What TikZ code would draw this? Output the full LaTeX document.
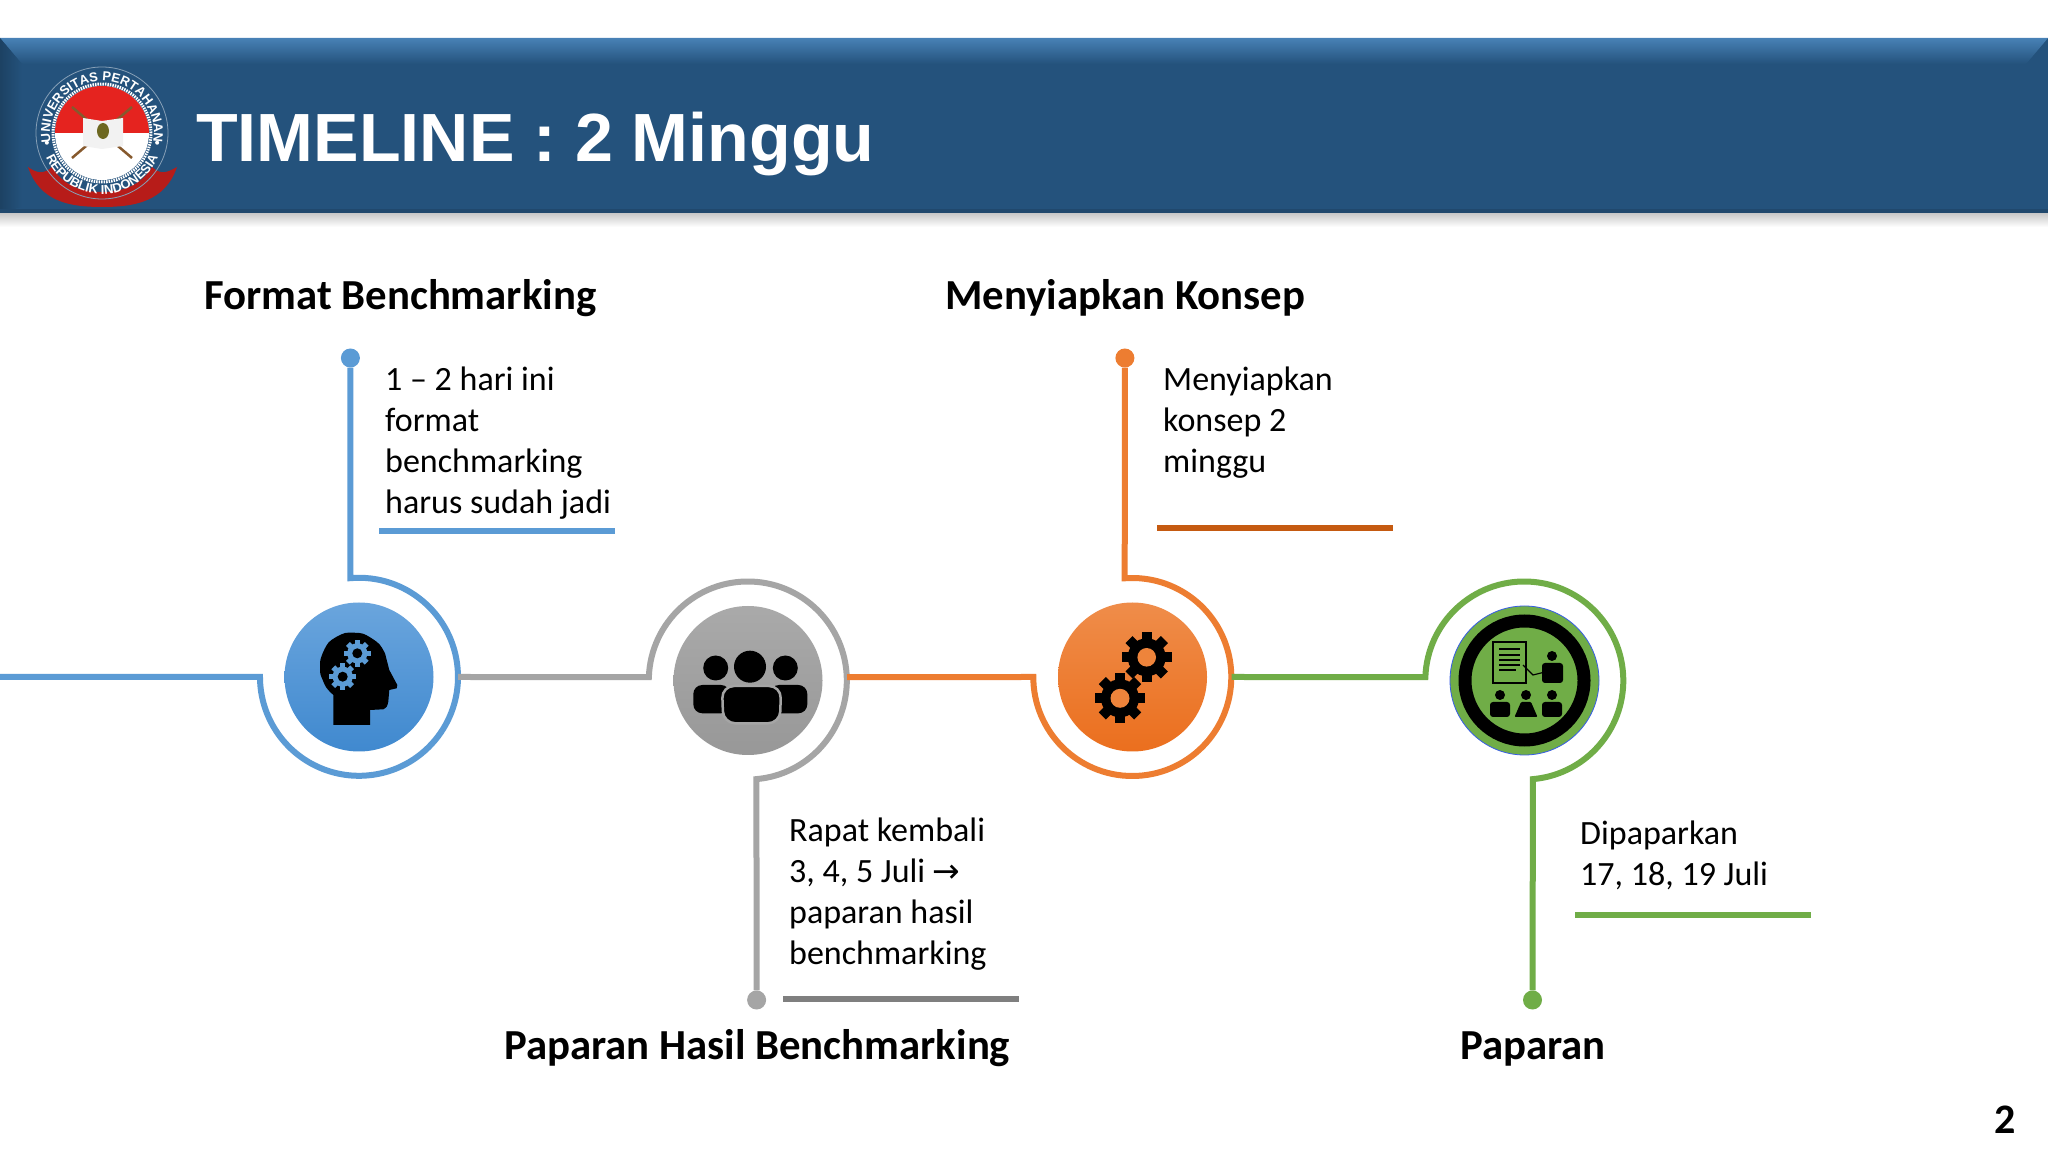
\documentclass[tikz,border=0pt]{standalone}
\usepackage{fontspec}
\setmainfont{Carlito}
\newfontfamily\titlefont{Liberation Sans}
\newfontfamily\arrowfont{DejaVu Sans}
\usetikzlibrary{calc, decorations.text}
\definecolor{headbase}{HTML}{24527C}
\definecolor{linkblue}{HTML}{5B9BD5}
\definecolor{linkgray}{HTML}{A5A5A5}
\definecolor{linkorange}{HTML}{ED7D31}
\definecolor{linkgreen}{HTML}{70AD47}
\definecolor{rulegray}{HTML}{7F7F7F}
\definecolor{ruleorange}{HTML}{C55A11}
\definecolor{logored}{HTML}{E5231F}
\definecolor{disctopblue}{HTML}{6AA5DD}
\definecolor{discbotblue}{HTML}{4089CF}
\definecolor{discbotorange}{HTML}{EB6F1E}
\tikzset{
  gearicon/.pic={
    \fill (0,0) circle[radius=.76];
    \foreach \a in {0,45,...,315}
      \fill[rotate=\a] (-.2,.6) rectangle (.2,1);
  }
}
\begin{document}
\begin{tikzpicture}[x=1pt, y=1pt,
    ringnode/.style={circle, minimum size=198pt, inner sep=0pt},
    disc/.style={circle, minimum size=149pt, inner sep=0pt},
    link/.style={line width=6pt, line join=miter},
    enddot/.style={circle, minimum size=19pt, inner sep=0pt},
    heading/.style={anchor=base west, inner sep=0pt, font=\fontsize{42.8}{46}\selectfont\bfseries},
    bodytext/.style={anchor=north west, inner sep=0pt, align=left, font=\fontsize{34}{41}\selectfont},
    rulebar/.style={anchor=west, minimum width=236pt, minimum height=6pt, inner sep=0pt}
  ]
  \useasboundingbox (0,0) rectangle (2048,1152);
  \fill[white] (0,0) rectangle (2048,1152);

  % Header band with bevel and shadow
  \shade[top color=black!22, bottom color=white] (0,939) rectangle (2048,925);
  \fill[headbase] (0,939) rectangle (2048,1114);
  \shade[bottom color=headbase, top color=headbase!35!linkblue] (0,1114) -- (2048,1114) -- (2026,1088) -- (22,1088) -- cycle;
  \shade[left color=headbase!80!black, right color=headbase] (0,1114) -- (22,1088) -- (22,945) -- (0,939) -- cycle;
  \fill[headbase!88!black] (0,939) rectangle (2048,943);
  \node[anchor=base west, inner sep=0pt, text=white, font=\titlefont\fontsize{68.2}{80}\selectfont\bfseries] (headtitle) at (196,990) {TIMELINE : 2 Minggu};

  % Logo
  \fill[logored!80!black] (28,985) .. controls (40,950) and (70,945) .. (102,945) .. controls (134,945) and (165,950) .. (177,985) .. controls (165,978) and (160,978) .. (152,985) .. controls (140,965) and (120,960) .. (102,960) .. controls (84,960) and (64,965) .. (52,985) .. controls (44,978) and (38,978) .. (28,985) -- cycle;
  \draw[white!45!headbase, line width=.8pt] (102,1019) circle[radius=66];
  \fill[white] (102,1019) circle[radius=47];
  \begin{scope}
    \clip (55,1019) rectangle (149,1070);
    \fill[logored] (102,1019) circle[radius=47];
  \end{scope}
  \draw[white, line width=3pt, dash pattern=on 1.5pt off 1pt] (102,1019) circle[radius=49];
  \draw[brown!70!black, line width=2.5pt] (72,1045) -- (132,994);
  \draw[brown!70!black, line width=2.5pt] (132,1045) -- (72,994);
  \fill[black!5] (83,1006) -- (102,1003) -- (123,1006) -- (123,1034) -- (102,1031) -- (83,1034) -- cycle;
  \fill[olive!70!black] (103,1021) ellipse[x radius=6, y radius=8];
  \path[decorate, decoration={text along path, text align=center, text color=white, text={|\titlefont\fontsize{13}{13}\selectfont\bfseries|UNIVERSITAS PERTAHANAN}}] ($(102,1019)+(190:52)$) arc[start angle=190,end angle=-10,radius=52];
  \path[decorate, decoration={text along path, text align=center, text color=white, text={|\titlefont\fontsize{13}{13}\selectfont\bfseries|REPUBLIK INDONESIA}}] ($(102,1019)+(205:61)$) arc[start angle=205,end angle=335,radius=61];
  \fill[white] ($(102,1019)+(190:56)$) circle[radius=2];
  \fill[white] ($(102,1019)+(-10:56)$) circle[radius=2];

  % Rings, discs and end dots
  \node[ringnode] (ringblue) at (359,475) {};
  \node[ringnode] (ringgray) at (748,471.5) {};
  \node[ringnode] (ringorange) at (1132.5,475) {};
  \node[ringnode] (ringgreen) at (1524.5,471.5) {};
  \node[disc, top color=disctopblue, bottom color=discbotblue] (discblue) at (ringblue) {};
  \node[disc, top color=linkgray!95!white, bottom color=linkgray!92!black] (discgray) at (ringgray) {};
  \node[disc, top color=linkorange!88!white, bottom color=discbotorange] (discorange) at (ringorange) {};
  \node[disc, fill=linkgreen, draw=linkblue!60!blue, line width=.8pt] (discgreen) at (ringgreen) {};
  \node[enddot, fill=linkblue] (dotblue) at (350.4,794) {};
  \node[enddot, fill=linkgray] (dotgray) at (756.6,152) {};
  \node[enddot, fill=linkorange] (dotorange) at (1124.9,794) {};
  \node[enddot, fill=linkgreen] (dotgreen) at (1532.5,152) {};
  \coordinate (startline) at (0,475);

  % Connectors, each line runs on into the ring of its own colour
  \draw[link, linkblue] (dotblue) -- (ringblue.95) arc[start angle=95,end angle=-180,radius=99] -- (startline);
  \draw[link, linkgray] (ringblue.east) -- (ringgray.178) arc[start angle=178,end angle=-85,radius=99] -- (dotgray);
  \draw[link, linkorange] (ringgray.2) -- (ringorange.west) arc[start angle=-180,end angle=94.4,radius=99] -- (dotorange);
  \draw[link, linkgreen] (ringorange.east) -- (ringgreen.178) arc[start angle=178,end angle=-85,radius=99] -- (dotgreen);

  % Head icon
  \fill[black] (333.3,427) -- (370,427) -- (370,442) -- (383.3,442.7) .. controls (387,445) .. (388.3,450.3) -- (389.3,462) -- (396.7,463.7) -- (397.3,467) -- (389.3,482) .. controls (388,490) .. (385,498.7) .. controls (380,508) .. (371.7,513.7) .. controls (363,519) .. (353.3,519.3) .. controls (345,519.5) .. (336.7,515.3) .. controls (328,510) .. (323.3,500.3) .. controls (320,492) .. (320,485.3) .. controls (320,478) .. (322.7,472) .. controls (326,464) .. (333.3,457) -- cycle;
  \begin{scope}[fill=linkblue]
    \pic[scale=13.3] at (357.3,498.7) {gearicon};
    \pic[scale=13.3] at (342.7,475.3) {gearicon};
  \end{scope}
  \fill[black] (357.3,498.7) circle[radius=5];
  \fill[black] (342.7,475.3) circle[radius=5];

  % Group icon
  \fill[black] (715.7,484) circle[radius=12.5];
  \fill[black] (785.3,484) circle[radius=12.5];
  \fill[black] (750,485.3) circle[radius=16];
  \fill[black, rounded corners=9pt] (693.3,438.7) -- (693.3,467) -- (730,467) -- (730,438.7) -- cycle;
  \fill[black, rounded corners=9pt] (770,438.7) -- (770,467) -- (807.3,467) -- (807.3,438.7) -- cycle;
  \filldraw[fill=black, draw=linkgray, rounded corners=12pt, line width=2.5pt] (723.3,428.7) -- (722,466) -- (781,466) -- (780,428.7) -- cycle;

  % Gear icon
  \begin{scope}[fill=black]
    \pic[scale=25] at (1146.7,494.7) {gearicon};
    \pic[scale=25] at (1120,453.7) {gearicon};
  \end{scope}
  \fill[linkorange!95!white] (1146.7,494.7) circle[radius=9.3];
  \fill[linkorange!95!white] (1120,453.7) circle[radius=9.5];

  % Presenter icon
  \draw[black, line width=13pt] (ringgreen) circle[radius=59.5];
  \draw[black, line width=1.5pt] (1493,510) rectangle (1526,469);
  \foreach \ypos/\xend in {503/1520, 497/1520, 492/1520, 487/1520, 482/1516}
    \draw[black, line width=1.3pt] (1499,\ypos) -- (\xend,\ypos);
  \fill[black] (1552,496) circle[radius=5];
  \fill[black, rounded corners=3pt] (1542,469) -- (1542,489) -- (1563,489) -- (1563,469) -- cycle;
  \draw[black, line width=1.2pt] (1523,487) -- (1533,477) -- (1545,480);
  \foreach \xpos in {1500, 1552} {
    \fill[black] (\xpos,457) circle[radius=5];
    \fill[black, rounded corners=3pt] (\xpos-10,435) -- (\xpos-10,450) -- (\xpos+10,450) -- (\xpos+10,435) -- cycle;
  }
  \fill[black] (1526,457) circle[radius=5];
  \fill[black, rounded corners=1pt] (1514.5,435) -- (1521,450) -- (1531,450) -- (1537.5,435) -- cycle;

  % Headings
  \node[heading] (headformat) at (204,842.5) {Format Benchmarking};
  \node[heading] (headkonsep) at (945,842.5) {Menyiapkan Konsep};
  \node[heading] (headhasil) at (504,93) {Paparan Hasil Benchmarking};
  \node[heading] (headpaparan) at (1460,93) {Paparan};

  % Body texts
  \node[bodytext] (textformat) at (385,785.5) {1 – 2 hari ini\\format\\benchmarking\\harus sudah jadi};
  \node[bodytext] (textkonsep) at (1163,785.5) {Menyiapkan\\konsep 2\\minggu};
  \node[bodytext] (texthasil) at (789,334) {Rapat kembali\\3, 4, 5 Juli {\arrowfont\fontsize{33}{41}\selectfont →}\\paparan hasil\\benchmarking};
  \node[bodytext] (textpaparan) at (1580,331) {Dipaparkan\\17, 18, 19 Juli};

  % Rules under the texts
  \node[rulebar, fill=linkblue] (ruleformat) at (379,621) {};
  \node[rulebar, fill=ruleorange] (rulekonsep) at (1157,624) {};
  \node[rulebar, fill=rulegray] (rulehasil) at (783,153) {};
  \node[rulebar, fill=linkgreen] (rulepaparan) at (1575,237) {};

  % Page number
  \node[anchor=base east, inner sep=0pt, font=\fontsize{42}{44}\selectfont\bfseries] (pagenum) at (2016,19) {2};
\end{tikzpicture}
\end{document}
